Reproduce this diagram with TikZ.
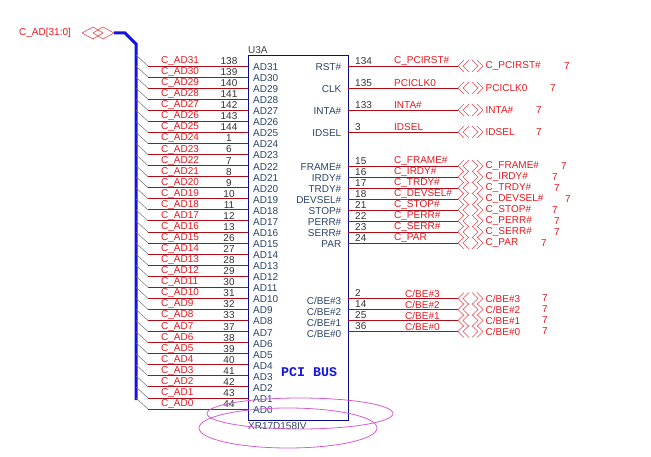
\documentclass[tikz,border=0pt]{standalone}
\usepackage{fontspec}
\setmainfont{Liberation Sans}
\newfontfamily\busfont{Liberation Mono}
\usetikzlibrary{positioning, calc}
\definecolor{netred}{HTML}{E4181F}
\definecolor{wirered}{HTML}{B00C18}
\definecolor{pinblue}{HTML}{2A4468}
\definecolor{busblue}{HTML}{1414E0}
\definecolor{ringpink}{HTML}{D45CD4}
\tikzset{
	netlabel/.style={text=netred, font=\fontsize{10}{10}\selectfont, inner sep=0pt},
	pinnum/.style={text=black!80, font=\fontsize{10}{10}\selectfont, inner sep=0pt},
	pinname/.style={text=pinblue, font=\fontsize{10}{10}\selectfont, inner sep=0pt},
	wire/.style={wirered, line width=0.9pt},
	portmark/.pic={
		\draw[netred!80, line width=0.6pt]
		(6,-6) -- (0,0) -- (6,6)
		(11,-6) -- (5,0) -- (11,6)
		(14,-6) -- (20,0) -- (14,6)
		(19,-6) -- (25,0) -- (19,6);
	},
}
\begin{document}
\begin{tikzpicture}[x=1pt, y=-1pt]
	\useasboundingbox (0,0) rectangle (651,457);
	\node[draw=busblue!60!black, line width=0.8pt, minimum width=100pt, minimum height=365pt, inner sep=0pt, anchor=north west] (u3a) at (247.5,55) {};
	\node[pinname, anchor=south west, text=black!75] (refdes) at (248,54) {U3A};
	\node[pinname, anchor=west] (partname) at (248,426) {XR17D158IV};
	\node[text=busblue, anchor=west, inner sep=0pt, font=\busfont\bfseries\fontsize{13.3}{13.3}\selectfont] (pcibus) at (281,372) {PCI BUS};

	% bus on the left
	\node[netlabel, anchor=west] (adname) at (19,33) {C\_AD[31:0]};
	\coordinate (adport) at (114,33);
	\draw[netred!80, line width=0.6pt] (82,33) -- (93,27) -- (103,33) -- (93,39) -- cycle
		(93,33) -- (103,27) -- (114,33) -- (103,39) -- cycle;
	\coordinate (busbend) at (125,33);
	\coordinate (bustop) at (136,44);
	\coordinate (busend) at (136,400);
	\draw[busblue, line width=3pt] (adport) -- (busbend) -- (bustop) -- (busend);

	% address pins
	\foreach \i/\pin in {31/138,30/139,29/140,28/141,27/142,26/143,25/144,24/1,23/6,22/7,21/8,20/9,19/10,18/11,17/12,16/13,15/26,14/27,13/28,12/29,11/30,10/31,9/32,8/33,7/37,6/38,5/39,4/40,3/41,2/42,1/43,0/44} {
		\pgfmathsetmacro{\rowy}{66+11.065*(31-\i)}
		\coordinate (tap\i) at (136,\rowy-11);
		\coordinate (knee\i) at (148,\rowy);
		\coordinate (ad\i) at (247.5,\rowy);
		\draw[black!55, line width=0.5pt] (tap\i) -- (knee\i);
		\draw[wire] (knee\i) -- (ad\i);
		\node[netlabel, anchor=west] (net\i) at (161,\rowy-5) {C\_AD\i};
		\node[pinnum] (num\i) at (229,\rowy-5) {\pin};
		\node[pinname, anchor=west] (name\i) at (253,\rowy+1) {AD\i};
	}

	% control pins
	\foreach \k/\rowy/\pin/\sig/\net/\sevenx in {
		a/66/134/RST\#/C\_PCIRST\#/567,
		b/88/135/CLK/PCICLK0/553,
		c/110/133/INTA\#/INTA\#/539,
		d/132/3/IDSEL/IDSEL/539,
		e/166/15/FRAME\#/C\_FRAME\#/564,
		f/177/16/IRDY\#/C\_IRDY\#/555,
		g/188/17/TRDY\#/C\_TRDY\#/557,
		h/199/18/DEVSEL\#/C\_DEVSEL\#/568,
		i/210/21/STOP\#/C\_STOP\#/555,
		j/221/22/PERR\#/C\_PERR\#/557,
		k/232/23/SERR\#/C\_SERR\#/557,
		l/243/24/PAR/C\_PAR/544} {
		\coordinate (pin\k) at (347.5,\rowy);
		\coordinate (port\k) at (458,\rowy);
		\draw[wire] (pin\k) -- (port\k);
		\pic at (port\k) {portmark};
		\node[pinname, anchor=east] (sig\k) at (341.5,\rowy+1) {\sig};
		\node[pinnum, anchor=west] (num\k) at (355,\rowy-5) {\pin};
		\node[netlabel, anchor=west] (mid\k) at (394,\rowy-5) {\net};
		\node[netlabel, anchor=west] (out\k) at (485.5,\rowy) {\net};
		\node[netlabel] (sev\k) at (\sevenx,\rowy) {7};
	}

	% byte enables
	\foreach \k/\rowy/\pin in {3/298.5/2,2/309.5/14,1/320.5/25,0/331.5/36} {
		\coordinate (bepin\k) at (347.5,\rowy);
		\coordinate (beport\k) at (458,\rowy);
		\draw[wire] (bepin\k) -- (beport\k);
		\pic at (beport\k) {portmark};
		\node[pinname, anchor=east] (besig\k) at (341.5,\rowy+2) {C/BE\#\k};
		\node[pinnum, anchor=west] (benum\k) at (355,\rowy-5) {\pin};
		\node[netlabel, anchor=west] (bemid\k) at (405,\rowy-5) {C/BE\#\k};
		\node[netlabel, anchor=west] (beout\k) at (485.5,\rowy) {C/BE\#\k};
		\node[netlabel] (besev\k) at (545,\rowy) {7};
	}

	% rings round the last pin
	\draw[ringpink, line width=0.8pt] (300,413.5) ellipse [x radius=93, y radius=15.5];
	\draw[ringpink, line width=0.8pt] (288,428) ellipse [x radius=89, y radius=20];
\end{tikzpicture}
\end{document}
